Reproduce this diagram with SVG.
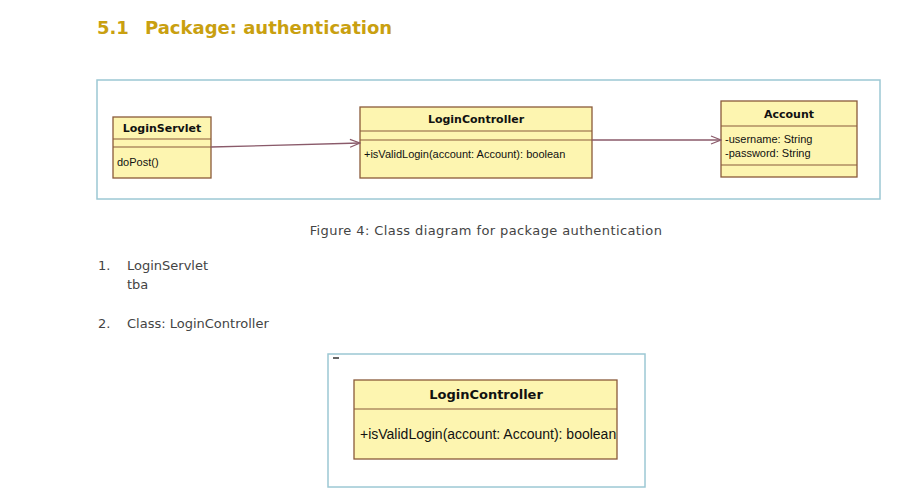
<svg xmlns="http://www.w3.org/2000/svg" width="916" height="496" viewBox="0 0 916 496">
<style>
.frame{fill:#fff;stroke:#9cc8d4;stroke-width:1.5}
.cls{fill:#fdf5b0;stroke:#8a5a3a;stroke-width:1.3}
.sep{stroke:#8a5a3a;stroke-width:1.2}
.nm{font-family:"DejaVu Sans",sans-serif;font-weight:bold;font-size:11px;fill:#111;text-anchor:middle}
.mb{font-family:"Liberation Sans",sans-serif;font-size:11px;fill:#111}
.txt{font-family:"DejaVu Sans",sans-serif;font-size:13px;fill:#444}
.con{stroke:#8a5a6a;stroke-width:1.3;fill:none}
</style>
<defs><marker id="arr" markerWidth="12" markerHeight="10" refX="11" refY="5" orient="auto" markerUnits="userSpaceOnUse"><path d="M1,1 L11,5 L1,9" fill="none" stroke="#8a5a6a" stroke-width="1.3"/></marker></defs>
<rect width="916" height="496" fill="#fff"/>
<text x="97" y="34" font-family="DejaVu Sans,sans-serif" font-weight="bold" font-size="18" fill="#c9a010">5.1</text>
<text x="145" y="34" font-family="DejaVu Sans,sans-serif" font-weight="bold" font-size="18" fill="#c9a010">Package: authentication</text>
<rect class="frame" x="97" y="80" width="783" height="119"/>
<g id="LoginServlet"><rect class="cls" x="113" y="117" width="98" height="61"/><line class="sep" x1="113" y1="139" x2="211" y2="139"/><line class="sep" x1="113" y1="147" x2="211" y2="147"/><text class="nm" x="162" y="132">LoginServlet</text><text class="mb" x="117" y="166">doPost()</text></g>
<g id="LoginController"><rect class="cls" x="360" y="107" width="232" height="71"/><line class="sep" x1="360" y1="131" x2="592" y2="131"/><line class="sep" x1="360" y1="140" x2="592" y2="140"/><text class="nm" x="476" y="123">LoginController</text><text class="mb" x="364" y="158">+isValidLogin(account: Account): boolean</text></g>
<g id="Account"><rect class="cls" x="721" y="101" width="136" height="76"/><line class="sep" x1="721" y1="126" x2="857" y2="126"/><line class="sep" x1="721" y1="165" x2="857" y2="165"/><text class="nm" x="789" y="118">Account</text><text class="mb" x="725" y="143">-username: String</text><text class="mb" x="725" y="157">-password: String</text></g>
<g id="connectors"><path class="con" d="M211,147 L360,143" marker-end="url(#arr)"/><path class="con" d="M592,140 L721,140" marker-end="url(#arr)"/></g>
<text class="txt" x="486" y="235" text-anchor="middle" letter-spacing="0.4">Figure 4: Class diagram for package authentication</text>
<text class="txt" x="98" y="270">1.</text><text class="txt" x="127" y="270">LoginServlet</text>
<text class="txt" x="127" y="289">tba</text>
<text class="txt" x="98" y="328">2.</text><text class="txt" x="127" y="328">Class: LoginController</text>
<rect class="frame" x="328" y="354" width="317" height="133"/>
<line x1="333" y1="358" x2="339" y2="358" stroke="#333" stroke-width="1.5"/>
<g id="LoginController2"><rect class="cls" x="354" y="380" width="263" height="79"/><line class="sep" x1="354" y1="409" x2="617" y2="409"/><text class="nm" x="486" y="399" style="font-size:13px">LoginController</text><text class="mb" x="360" y="439" style="font-size:14px">+isValidLogin(account: Account): boolean</text></g>
</svg>
